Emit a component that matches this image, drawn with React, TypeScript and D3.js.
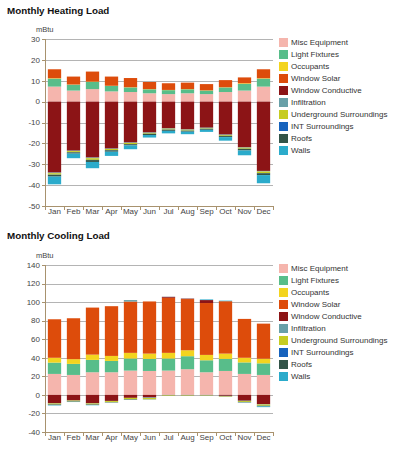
import React, { useEffect, useRef } from 'react';
import * as d3 from 'd3';

const months = ['Jan', 'Feb', 'Mar', 'Apr', 'May', 'Jun', 'Jul', 'Aug', 'Sep', 'Oct', 'Nov', 'Dec'];

const seriesNames = [
  'Misc Equipment', 'Light Fixtures', 'Occupants', 'Window Solar', 'Window Conductive',
  'Infiltration', 'Underground Surroundings', 'INT Surroundings', 'Roofs', 'Walls',
];
const seriesColors = [
  '#f5b5ad', '#58bd8a', '#f3d41f', '#dd4c0b', '#8c1416',
  '#68a0a8', '#c6cc21', '#1763bd', '#325448', '#2babcb',
];

// heating load, mBtu
const heatMisc = [7.2, 5.3, 6.0, 4.9, 4.6, 4.0, 3.6, 4.0, 3.6, 4.6, 5.3, 7.2];
const heatLight = [3.8, 2.8, 3.4, 2.6, 2.2, 1.9, 1.9, 1.9, 1.7, 2.2, 3.2, 3.8];
const heatOccupants = [0.2, 0.1, 0.2, 0.1, 0.1, 0.1, 0.1, 0.1, 0.1, 0.1, 0.3, 0.2];
const heatSolar = [4.3, 3.8, 4.8, 4.4, 4.4, 3.4, 3.2, 3.1, 3.0, 3.4, 2.8, 4.3];
const heatConductive = [-34, -23.5, -26.8, -22.5, -19.6, -14.8, -12.8, -13.3, -12.5, -15.8, -21.9, -33.2];
const heatInfiltration = [-0.3, -0.2, -0.3, -0.2, -0.2, -0.2, -0.2, -0.2, -0.2, -0.2, -0.2, -0.3];
const heatUnderground = [-0.7, -0.5, -0.8, -0.5, -0.5, -0.4, -0.4, -0.4, -0.3, -0.4, -0.5, -0.7];
const heatInt = [-0.1, -0.1, -0.1, -0.1, -0.1, -0.1, -0.1, -0.1, -0.1, -0.1, -0.1, -0.1];
const heatRoofs = [-0.8, -0.6, -0.9, -0.7, -0.6, -0.5, -0.5, -0.4, -0.4, -0.5, -0.7, -0.9];
const heatWalls = [-3.7, -2.2, -3.0, -2.0, -1.8, -1.2, -1.2, -1.2, -1.0, -1.7, -2.3, -3.9];

// cooling load, mBtu
const coolMisc = [22.6, 21.5, 24.4, 24.4, 26.2, 25.8, 26.2, 27.7, 24.4, 25.8, 22.6, 21.5];
const coolLight = [12.2, 11.9, 13.3, 12.2, 13.0, 13.0, 13.0, 14.0, 12.9, 13.0, 12.4, 12.5];
const coolOccupants = [5.2, 5.1, 5.7, 5.4, 6.1, 5.7, 6.1, 6.4, 5.8, 5.7, 5.0, 5.0];
const coolSolar = [41.5, 44.1, 50.7, 53.6, 55.3, 56.2, 59.4, 55.2, 55.9, 56.5, 41.9, 37.8];
const coolConductive = [-9, -6, -9, -6.5, -3.2, -2.8, 1.0, 0.5, 3.2, -1.0, -6.3, -10];
const coolInfiltration = [-0.3, -0.2, -0.3, -0.2, 1.6, -0.6, -0.3, -0.3, -0.3, -0.3, -0.3, -0.4];
const coolUnderground = [-1.0, -0.8, -1.0, -1.2, -1.5, -1.3, -0.6, -0.5, -0.4, -0.5, -1.0, -1.3];
const coolInt = [-0.1, -0.1, -0.1, -0.1, 0, 0, 0, 0, 0, 0, -0.1, -0.1];
const coolRoofs = [-0.6, -0.4, -0.5, -0.3, -0.5, -0.2, -0.1, -0.1, -0.1, -0.2, -0.4, -0.6];
const coolWalls = [-0.4, -0.2, -0.3, -0.1, -0.1, -0.1, 0.1, 0.1, 0.7, 0.6, -0.2, -0.8];

const heatSeries = [heatMisc, heatLight, heatOccupants, heatSolar, heatConductive,
  heatInfiltration, heatUnderground, heatInt, heatRoofs, heatWalls];
const coolSeries = [coolMisc, coolLight, coolOccupants, coolSolar, coolConductive,
  coolInfiltration, coolUnderground, coolInt, coolRoofs, coolWalls];

const heatTicks = [-50, -40, -30, -20, -10, 0, 10, 20, 30];
const coolTicks = [-40, -20, 0, 20, 40, 60, 80, 100, 120, 140];

const AXIS = '#a8926e';
const GRID = '#b4b4b4';
const FONT = '"Liberation Sans", Arial, sans-serif';

type ChartOpts = {
  title: string;
  titleY: number;
  top: number;
  bottom: number;
  ticks: number[];
  series: number[][];
};

function drawChart(root: d3.Selection<SVGSVGElement, unknown, null, undefined>, opts: ChartOpts) {
  const left = 45;
  const right = 273;

  const rows = months.map((m, i) => {
    const row: Record<string, any> = { month: m };
    seriesNames.forEach((name, s) => { row[name] = opts.series[s][i]; });
    return row;
  });

  const stacked = d3.stack<any>()
    .keys(seriesNames)
    .offset(d3.stackOffsetDiverging)(rows);

  const x = d3.scaleBand()
    .domain(months)
    .range([left, right])
    .paddingInner(0.3)
    .paddingOuter(0.15);

  const y = d3.scaleLinear()
    .domain([opts.ticks[0], opts.ticks[opts.ticks.length - 1]])
    .range([opts.bottom, opts.top]);

  const g = root.append('g').attr('font-family', FONT);

  g.append('text')
    .attr('x', 7)
    .attr('y', opts.titleY)
    .attr('font-size', 9.8)
    .attr('font-weight', 'bold')
    .attr('fill', '#111')
    .text(opts.title);

  g.append('text')
    .attr('x', 36)
    .attr('y', opts.top - 7.5)
    .attr('font-size', 7.5)
    .attr('fill', '#444')
    .text('mBtu');

  // horizontal grid
  g.append('g')
    .selectAll('line')
    .data(opts.ticks.slice(1))
    .join('line')
    .attr('x1', left)
    .attr('x2', right)
    .attr('y1', d => Math.round(y(d)) + 0.5)
    .attr('y2', d => Math.round(y(d)) + 0.5)
    .attr('stroke', GRID)
    .attr('stroke-width', 1);

  // stacked bars
  g.append('g')
    .selectAll('g')
    .data(stacked)
    .join('g')
    .attr('fill', (_, i) => seriesColors[i])
    .selectAll('rect')
    .data(d => d)
    .join('rect')
    .attr('x', d => x(d.data.month)!)
    .attr('width', x.bandwidth())
    .attr('y', d => y(Math.max(d[0], d[1])))
    .attr('height', d => Math.abs(y(d[0]) - y(d[1])));

  // y axis
  const yAxis = g.append('g');
  yAxis.append('line')
    .attr('x1', left + 0.5).attr('x2', left + 0.5)
    .attr('y1', opts.top).attr('y2', opts.bottom + 1)
    .attr('stroke', AXIS);
  yAxis.selectAll('line.tick')
    .data(opts.ticks)
    .join('line')
    .attr('class', 'tick')
    .attr('x1', left - 3).attr('x2', left)
    .attr('y1', d => Math.round(y(d)) + 0.5)
    .attr('y2', d => Math.round(y(d)) + 0.5)
    .attr('stroke', AXIS);
  yAxis.selectAll('text')
    .data(opts.ticks)
    .join('text')
    .attr('x', left - 5)
    .attr('y', d => y(d))
    .attr('dy', '0.35em')
    .attr('text-anchor', 'end')
    .attr('font-size', 8)
    .attr('fill', '#444')
    .text(d => d);

  // x axis
  const xAxis = g.append('g');
  xAxis.append('line')
    .attr('x1', left).attr('x2', right)
    .attr('y1', opts.bottom + 0.5).attr('y2', opts.bottom + 0.5)
    .attr('stroke', AXIS);
  const bounds = months.map(m => x(m)! - (x.step() - x.bandwidth()) / 2).concat([right]);
  xAxis.selectAll('line.tick')
    .data(bounds)
    .join('line')
    .attr('class', 'tick')
    .attr('x1', d => Math.round(d) + 0.5).attr('x2', d => Math.round(d) + 0.5)
    .attr('y1', opts.bottom).attr('y2', opts.bottom + 4)
    .attr('stroke', AXIS);
  xAxis.selectAll('text')
    .data(months)
    .join('text')
    .attr('x', d => x(d)! + x.bandwidth() / 2)
    .attr('y', opts.bottom + 8)
    .attr('text-anchor', 'middle')
    .attr('font-size', 8)
    .attr('fill', '#444')
    .text(d => d);

  // legend
  const legend = g.append('g')
    .selectAll('g')
    .data(seriesNames)
    .join('g')
    .attr('transform', (_, i) => `translate(279, ${opts.top + 3.5 + i * 12})`);
  legend.append('rect')
    .attr('x', 0)
    .attr('y', -4.5)
    .attr('width', 9)
    .attr('height', 9)
    .attr('fill', (_, i) => seriesColors[i]);
  legend.append('text')
    .attr('x', 12)
    .attr('dy', '0.35em')
    .attr('font-size', 8)
    .attr('fill', '#333')
    .text(d => d);
}

const App = () => {
  const ref = useRef<SVGSVGElement>(null);

  useEffect(() => {
    const svg = d3.select(ref.current!);
    svg.selectAll('*').remove();

    drawChart(svg, {
      title: 'Monthly Heating Load',
      titleY: 13.5,
      top: 39,
      bottom: 206,
      ticks: heatTicks,
      series: heatSeries,
    });

    drawChart(svg, {
      title: 'Monthly Cooling Load',
      titleY: 239,
      top: 265,
      bottom: 432,
      ticks: coolTicks,
      series: coolSeries,
    });
  }, []);

  return (
    <svg
      ref={ref}
      width={400}
      height={453}
      style={{ position: 'absolute', left: 0, top: 0, background: '#fff' }}
    />
  );
};

export default App;
